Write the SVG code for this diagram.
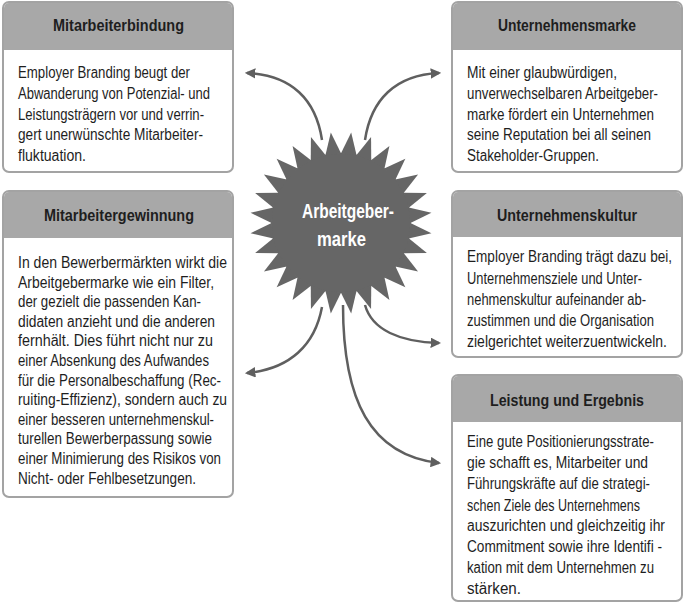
<svg xmlns="http://www.w3.org/2000/svg" xmlns:xlink="http://www.w3.org/1999/xlink" width="685" height="604" viewBox="0 0 685 604">
<style>
.box{fill:#fff;stroke:#a3a3a3;stroke-width:2}
.hdr{fill:#a8a8a8}
.ht{font-family:"Liberation Sans",Arial,sans-serif;font-weight:bold;font-size:17px;fill:#1e1e1e}
.bt{font-family:"Liberation Sans",Arial,sans-serif;font-size:16px;fill:#1e1e1e}
.st{font-family:"Liberation Sans",Arial,sans-serif;font-weight:bold;font-size:21px;fill:#fff}
.con{fill:none;stroke:#5f5f5f;stroke-width:2.5}
</style>
<defs>
<marker id="ah" viewBox="0 0 10 10" refX="8" refY="5" markerWidth="4.2" markerHeight="4.2" orient="auto-start-reverse" markerUnits="strokeWidth">
<path d="M0,0 L10,5 L0,10 Z" fill="#5f5f5f"/>
</marker>
<polygon id="spike" points="0,-91 7.9,-69 -7.9,-69" fill="#666"/>
</defs>

<g id="connectors">
<path class="con" marker-end="url(#ah)" d="M322,140 C316,100 292,75 247,73"/>
<path class="con" marker-end="url(#ah)" d="M365,140 C371,100 395,75 439,73"/>
<path class="con" marker-end="url(#ah)" d="M322,307 C315,345 290,369 247,373"/>
<path class="con" marker-end="url(#ah)" d="M365,305 C372,330 400,342 439,343"/>
<path class="con" marker-end="url(#ah)" d="M343,305 C343,400 370,455 439,463"/>
</g>

<g id="star">
<circle cx="341" cy="223" r="70" fill="#666"/>
<g transform="translate(341 223)">
<use xlink:href="#spike" transform="rotate(6.43)"/>
<use xlink:href="#spike" transform="rotate(19.29)"/>
<use xlink:href="#spike" transform="rotate(32.14)"/>
<use xlink:href="#spike" transform="rotate(45)"/>
<use xlink:href="#spike" transform="rotate(57.86)"/>
<use xlink:href="#spike" transform="rotate(70.71)"/>
<use xlink:href="#spike" transform="rotate(83.57)"/>
<use xlink:href="#spike" transform="rotate(96.43)"/>
<use xlink:href="#spike" transform="rotate(109.29)"/>
<use xlink:href="#spike" transform="rotate(122.14)"/>
<use xlink:href="#spike" transform="rotate(135)"/>
<use xlink:href="#spike" transform="rotate(147.86)"/>
<use xlink:href="#spike" transform="rotate(160.71)"/>
<use xlink:href="#spike" transform="rotate(173.57)"/>
<use xlink:href="#spike" transform="rotate(186.43)"/>
<use xlink:href="#spike" transform="rotate(199.29)"/>
<use xlink:href="#spike" transform="rotate(212.14)"/>
<use xlink:href="#spike" transform="rotate(225)"/>
<use xlink:href="#spike" transform="rotate(237.86)"/>
<use xlink:href="#spike" transform="rotate(250.71)"/>
<use xlink:href="#spike" transform="rotate(263.57)"/>
<use xlink:href="#spike" transform="rotate(276.43)"/>
<use xlink:href="#spike" transform="rotate(289.29)"/>
<use xlink:href="#spike" transform="rotate(302.14)"/>
<use xlink:href="#spike" transform="rotate(315)"/>
<use xlink:href="#spike" transform="rotate(327.86)"/>
<use xlink:href="#spike" transform="rotate(340.71)"/>
<use xlink:href="#spike" transform="rotate(353.57)"/>
</g>
<text class="st" x="302" y="218" textLength="92" lengthAdjust="spacingAndGlyphs">Arbeitgeber-</text>
<text class="st" x="317" y="246" textLength="49" lengthAdjust="spacingAndGlyphs">marke</text>
</g>

<g id="mitarbeiterbindung">
<rect class="box" x="3" y="2" width="230" height="170" rx="6"/>
<path class="hdr" d="M9,3 H227 A5,5 0 0 1 232,8 V50 H4 V8 A5,5 0 0 1 9,3 Z"/>
<text class="ht" x="53" y="31" textLength="131" lengthAdjust="spacingAndGlyphs">Mitarbeiterbindung</text>
<text class="bt" x="18" y="78" textLength="172" lengthAdjust="spacingAndGlyphs">Employer Branding beugt der</text>
<text class="bt" x="18" y="99" textLength="192" lengthAdjust="spacingAndGlyphs">Abwanderung von Potenzial- und</text>
<text class="bt" x="18" y="120" textLength="186" lengthAdjust="spacingAndGlyphs">Leistungsträgern vor und verrin-</text>
<text class="bt" x="18" y="140" textLength="185" lengthAdjust="spacingAndGlyphs">gert unerwünschte Mitarbeiter-</text>
<text class="bt" x="18" y="161" textLength="68" lengthAdjust="spacingAndGlyphs">fluktuation.</text>
</g>

<g id="unternehmensmarke">
<rect class="box" x="452" y="2" width="230" height="170" rx="6"/>
<path class="hdr" d="M458,3 H676 A5,5 0 0 1 681,8 V50 H453 V8 A5,5 0 0 1 458,3 Z"/>
<text class="ht" x="498" y="31" textLength="138" lengthAdjust="spacingAndGlyphs">Unternehmensmarke</text>
<text class="bt" x="467" y="78" textLength="150" lengthAdjust="spacingAndGlyphs">Mit einer glaubwürdigen,</text>
<text class="bt" x="467" y="99" textLength="191" lengthAdjust="spacingAndGlyphs">unverwechselbaren Arbeitgeber-</text>
<text class="bt" x="467" y="120" textLength="187" lengthAdjust="spacingAndGlyphs">marke fördert ein Unternehmen</text>
<text class="bt" x="467" y="140" textLength="184" lengthAdjust="spacingAndGlyphs">seine Reputation bei all seinen</text>
<text class="bt" x="467" y="161" textLength="132" lengthAdjust="spacingAndGlyphs">Stakeholder-Gruppen.</text>
</g>

<g id="mitarbeitergewinnung">
<rect class="box" x="3" y="191" width="230" height="306" rx="6"/>
<path class="hdr" d="M9,192 H227 A5,5 0 0 1 232,197 V238 H4 V197 A5,5 0 0 1 9,192 Z"/>
<text class="ht" x="44" y="221" textLength="150" lengthAdjust="spacingAndGlyphs">Mitarbeitergewinnung</text>
<text class="bt" x="18" y="268" textLength="209" lengthAdjust="spacingAndGlyphs">In den Bewerbermärkten wirkt die</text>
<text class="bt" x="18" y="287.6" textLength="196" lengthAdjust="spacingAndGlyphs">Arbeitgebermarke wie ein Filter,</text>
<text class="bt" x="18" y="307.2" textLength="183" lengthAdjust="spacingAndGlyphs">der gezielt die passenden Kan-</text>
<text class="bt" x="18" y="326.8" textLength="197" lengthAdjust="spacingAndGlyphs">didaten anzieht und die anderen</text>
<text class="bt" x="18" y="346.4" textLength="195" lengthAdjust="spacingAndGlyphs">fernhält. Dies führt nicht nur zu</text>
<text class="bt" x="18" y="366" textLength="191" lengthAdjust="spacingAndGlyphs">einer Absenkung des Aufwandes</text>
<text class="bt" x="18" y="385.6" textLength="203" lengthAdjust="spacingAndGlyphs">für die Personalbeschaffung (Rec-</text>
<text class="bt" x="18" y="405.2" textLength="209" lengthAdjust="spacingAndGlyphs">ruiting-Effizienz), sondern auch zu</text>
<text class="bt" x="18" y="424.8" textLength="196" lengthAdjust="spacingAndGlyphs">einer besseren unternehmenskul-</text>
<text class="bt" x="18" y="444.4" textLength="194" lengthAdjust="spacingAndGlyphs">turellen Bewerberpassung sowie</text>
<text class="bt" x="18" y="464" textLength="203" lengthAdjust="spacingAndGlyphs">einer Minimierung des Risikos von</text>
<text class="bt" x="18" y="483.6" textLength="178" lengthAdjust="spacingAndGlyphs">Nicht- oder Fehlbesetzungen.</text>
</g>

<g id="unternehmenskultur">
<rect class="box" x="452" y="191" width="230" height="166" rx="6"/>
<path class="hdr" d="M458,192 H676 A5,5 0 0 1 681,197 V237 H453 V197 A5,5 0 0 1 458,192 Z"/>
<text class="ht" x="497" y="221" textLength="140" lengthAdjust="spacingAndGlyphs">Unternehmenskultur</text>
<text class="bt" x="467" y="262" textLength="205" lengthAdjust="spacingAndGlyphs">Employer Branding trägt dazu bei,</text>
<text class="bt" x="467" y="284" textLength="175" lengthAdjust="spacingAndGlyphs">Unternehmensziele und Unter-</text>
<text class="bt" x="467" y="305" textLength="179" lengthAdjust="spacingAndGlyphs">nehmenskultur aufeinander ab-</text>
<text class="bt" x="467" y="326" textLength="187" lengthAdjust="spacingAndGlyphs">zustimmen und die Organisation</text>
<text class="bt" x="467" y="347" textLength="200" lengthAdjust="spacingAndGlyphs">zielgerichtet weiterzuentwickeln.</text>
</g>

<g id="leistung">
<rect class="box" x="452" y="375" width="230" height="226" rx="6"/>
<path class="hdr" d="M458,376 H676 A5,5 0 0 1 681,381 V422 H453 V381 A5,5 0 0 1 458,376 Z"/>
<text class="ht" x="490" y="406" textLength="154" lengthAdjust="spacingAndGlyphs">Leistung und Ergebnis</text>
<text class="bt" x="467" y="447" textLength="187" lengthAdjust="spacingAndGlyphs">Eine gute Positionierungsstrate-</text>
<text class="bt" x="467" y="468" textLength="181" lengthAdjust="spacingAndGlyphs">gie schafft es, Mitarbeiter und</text>
<text class="bt" x="467" y="489" textLength="183" lengthAdjust="spacingAndGlyphs">Führungskräfte auf die strategi-</text>
<text class="bt" x="467" y="511" textLength="173" lengthAdjust="spacingAndGlyphs">schen Ziele des Unternehmens</text>
<text class="bt" x="467" y="531" textLength="198" lengthAdjust="spacingAndGlyphs">auszurichten und gleichzeitig ihr</text>
<text class="bt" x="467" y="552" textLength="195" lengthAdjust="spacingAndGlyphs">Commitment sowie ihre Identifi -</text>
<text class="bt" x="467" y="573" textLength="187" lengthAdjust="spacingAndGlyphs">kation mit dem Unternehmen zu</text>
<text class="bt" x="467" y="594" textLength="54" lengthAdjust="spacingAndGlyphs">stärken.</text>
</g>
</svg>
